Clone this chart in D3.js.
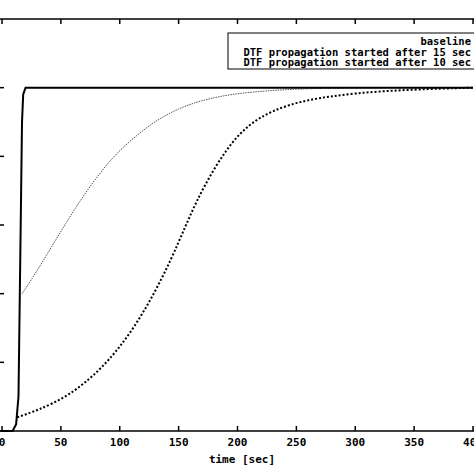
<!DOCTYPE html>
<html><head><meta charset="utf-8">
<script src="https://cdn.jsdelivr.net/npm/d3@7.9.0/dist/d3.min.js"></script>
<style>body{margin:0;background:#fff}svg{display:block}</style>
</head><body><svg id="c" width="474" height="474"></svg>
<script>
// values
const baseT = [0, 9, 12, 14, 15.5, 17, 18, 20, 400];
const baseV = [0, 0, 0.02, 0.1, 0.5, 0.9, 0.98, 1, 1];
const d15T = [17, 25, 41, 55, 70, 85, 100, 128, 150, 171, 200, 250, 300, 400];
const d15V = [0.40, 0.44, 0.53, 0.61, 0.69, 0.76, 0.82, 0.90, 0.94, 0.965, 0.985, 0.997, 1, 1];
const d10T = [13, 30, 56, 85, 113, 137, 150, 160, 171, 190, 208, 230, 258, 300, 350, 400];
const d10V = [0.04, 0.06, 0.10, 0.18, 0.30, 0.45, 0.55, 0.63, 0.71, 0.82, 0.89, 0.935, 0.965, 0.985, 0.995, 1];
const xTicks = [0, 50, 100, 150, 200, 250, 300, 350, 400];
const yTicks = [0, 0.2, 0.4, 0.6, 0.8, 1];
const legendLabels = ['baseline', 'DTF propagation started after 15 sec', 'DTF propagation started after 10 sec'];

const svg = d3.select('#c');
const x = d3.scaleLinear().domain([0, 400]).range([2, 473]);
const y = d3.scaleLinear().domain([0, 1.2]).range([431, 19]);
const font = '"DejaVu Sans Mono", monospace';

// frame: bottom and top lines
svg.append('line').attr('x1', 0).attr('x2', 474).attr('y1', y(0)).attr('y2', y(0)).attr('stroke', '#000').attr('stroke-width', 1.5);
svg.append('line').attr('x1', 0).attr('x2', 474).attr('y1', y(1.2)).attr('y2', y(1.2)).attr('stroke', '#000').attr('stroke-width', 1.5);

xTicks.forEach(t => {
  svg.append('line').attr('x1', x(t)).attr('x2', x(t)).attr('y1', y(0)).attr('y2', y(0) - 5).attr('stroke', '#000').attr('stroke-width', 1.5);
  svg.append('line').attr('x1', x(t)).attr('x2', x(t)).attr('y1', y(1.2)).attr('y2', y(1.2) + 5).attr('stroke', '#000').attr('stroke-width', 1.5);
  svg.append('text').attr('x', x(t)).attr('y', 446).attr('text-anchor', 'middle')
    .attr('font-family', font).attr('font-weight', 'bold').attr('font-size', 11).text(t);
});
yTicks.forEach(v => {
  svg.append('line').attr('x1', 0).attr('x2', 4).attr('y1', y(v)).attr('y2', y(v)).attr('stroke', '#000').attr('stroke-width', 1.5);
});
svg.append('text').attr('x', 242).attr('y', 463).attr('text-anchor', 'middle')
  .attr('font-family', font).attr('font-weight', 'bold').attr('font-size', 11).text('time [sec]');

const line = d3.line().x(d => x(d[0])).y(d => y(d[1]));
svg.append('path').datum(d10T.map((t, i) => [t, d10V[i]])).attr('d', line.curve(d3.curveBasis))
  .attr('fill', 'none').attr('stroke', '#000').attr('stroke-width', 2).attr('stroke-dasharray', '2,2');
svg.append('path').datum(d15T.map((t, i) => [t, d15V[i]])).attr('d', line.curve(d3.curveBasis))
  .attr('fill', 'none').attr('stroke', '#555').attr('stroke-width', 1).attr('stroke-dasharray', '1.5,1');
svg.append('path').datum(baseT.map((t, i) => [t, baseV[i]])).attr('d', line.curve(d3.curveLinear))
  .attr('fill', 'none').attr('stroke', '#000').attr('stroke-width', 2);

// legend
svg.append('rect').attr('x', 228).attr('y', 33).attr('width', 260).attr('height', 36)
  .attr('fill', '#fff').attr('stroke', '#000').attr('stroke-width', 1);
legendLabels.forEach((s, i) => {
  svg.append('text').attr('x', 471).attr('y', 45 + i * 10.5).attr('text-anchor', 'end')
    .attr('font-family', font).attr('font-weight', 'bold').attr('font-size', 10.5).text(s);
});
</script></body></html>
